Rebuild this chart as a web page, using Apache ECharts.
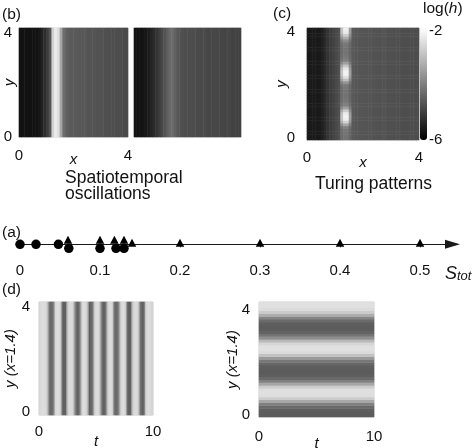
<!DOCTYPE html>
<html>
<head>
<meta charset="utf-8">
<script src="https://cdn.jsdelivr.net/npm/echarts@6/dist/echarts.min.js"></script>
<style>
  html, body { margin: 0; background: #fff; }
  #chart { width: 474px; height: 448px; }
</style>
</head>
<body>
<div id="chart"></div>
<script>
// (a) S_tot axis: outcome of each run
const sTicks = [0, 0.1, 0.2, 0.3, 0.4, 0.5];
const circleS = [0, 0.02, 0.048, 0.061, 0.1, 0.12, 0.13];
const circleLevel = [0, 0, 0, -0.4, -0.4, -0.4, -0.4];
const triS = [0.06, 0.1, 0.118, 0.13, 0.14, 0.2, 0.3, 0.4, 0.5];
const triLevel = [0.46, 0.46, 0.46, 0.46, 0.15, 0.15, 0.15, 0.15, 0.15];

// (b) log(h) across x (0..4, step 0.1), uniform in y
const bLeft = [-5.72, -5.72, -5.72, -5.72, -5.72, -5.72, -5.72, -5.64, -5.48, -5.28,
  -5.04, -4.7, -2.72, -2.32, -2.5, -3.4, -4.3, -4.5, -4.56, -4.6,
  -4.6, -4.6, -4.64, -4.64, -4.64, -4.68, -4.68, -4.68, -4.72, -4.72,
  -4.72, -4.76, -4.76, -4.76, -4.8, -4.8, -4.8, -4.8, -4.84, -4.84];
const bRight = [-5.68, -5.72, -5.72, -5.68, -5.64, -5.56, -5.44, -5.32, -5.2, -5.04,
  -4.88, -4.72, -4.52, -4.36, -4.32, -4.48, -4.64, -4.72, -4.76, -4.8,
  -4.8, -4.8, -4.8, -4.84, -4.84, -4.84, -4.84, -4.88, -4.88, -4.88,
  -4.88, -4.88, -4.92, -4.92, -4.92, -4.92, -4.96, -4.96, -4.96, -4.96];

// (c) background log(h) across x, plus the spot column profile across y
const cBg = [-5.6, -5.6, -5.6, -5.6, -5.6, -5.5, -5.35, -5.2, -5.05, -4.95,
  -4.85, -4.75, -4.6, -4.45, -4.45, -4.55, -4.6, -4.65, -4.65, -4.66,
  -4.67, -4.68, -4.69, -4.7, -4.7, -4.71, -4.72, -4.72, -4.73, -4.74,
  -4.74, -4.75, -4.76, -4.76, -4.77, -4.78, -4.78, -4.79, -4.8, -4.8];
const cSpotRow = [-4.2, -4.2, -4.2, -4.15, -4.0, -3.4, -2.7, -2.25, -2.2, -2.3,
  -2.8, -3.5, -4.0, -4.1, -4.15, -4.2, -4.2, -4.2, -4.15, -4.1,
  -3.7, -3.0, -2.5, -2.2, -2.2, -2.4, -2.9, -3.5, -4.0, -4.1,
  -4.15, -4.2, -4.2, -4.15, -4.1, -3.8, -3.3, -2.8, -2.35, -2.25];
const cSpotCols = [12, 13, 14, 15];
const cSpotWeight = [0.7, 1, 1, 0.45];

// (d) h at x=1.4, relative grey level; left across t (0..10, step 0.1), right across y (0..4, step 0.1)
const dLeft = [0.84, 0.85, 0.86, 0.86, 0.86, 0.86, 0.85, 0.76, 0.6, 0.45,
  0.38, 0.38, 0.45, 0.6, 0.84, 0.86, 0.87, 0.86, 0.84, 0.76,
  0.45, 0.38, 0.38, 0.38, 0.6, 0.76, 0.85, 0.86, 0.86, 0.85,
  0.76, 0.6, 0.45, 0.38, 0.38, 0.45, 0.6, 0.76, 0.85, 0.86,
  0.86, 0.85, 0.76, 0.6, 0.38, 0.38, 0.38, 0.45, 0.76, 0.84,
  0.86, 0.86, 0.85, 0.76, 0.6, 0.45, 0.38, 0.38, 0.45, 0.6,
  0.76, 0.85, 0.86, 0.86, 0.84, 0.6, 0.45, 0.38, 0.38, 0.45,
  0.6, 0.76, 0.85, 0.86, 0.86, 0.84, 0.76, 0.45, 0.38, 0.38,
  0.38, 0.6, 0.76, 0.85, 0.86, 0.86, 0.85, 0.76, 0.6, 0.38,
  0.38, 0.38, 0.45, 0.76, 0.84, 0.86, 0.86, 0.85, 0.84, 0.83];
const dRight = [0.36, 0.36, 0.37, 0.41, 0.5, 0.66, 0.8, 0.87, 0.88, 0.87,
  0.8, 0.65, 0.5, 0.41, 0.37, 0.36, 0.36, 0.37, 0.4, 0.47,
  0.6, 0.76, 0.86, 0.88, 0.88, 0.84, 0.72, 0.56, 0.45, 0.39,
  0.36, 0.36, 0.37, 0.42, 0.52, 0.68, 0.8, 0.86, 0.88, 0.88];

const colorbarTicks = [-6, -2];

const FONT = '"Liberation Sans", Arial, sans-serif';
const INK = '#111';

const chart = echarts.init(document.getElementById('chart'));

const xAxes = [];
const yAxes = [];
const series = [];

function cats (n) {
  return Array.from({ length: n }, (_, i) => String(i));
}

function heatPanel (gi, cols, rows, data) {
  xAxes.push({ type: 'category', gridIndex: gi, position: 'bottom', data: cats(cols), show: false });
  yAxes.push({ type: 'category', gridIndex: gi, position: 'left', data: cats(rows), show: false });
  series.push({
    type: 'heatmap',
    xAxisIndex: xAxes.length - 1,
    yAxisIndex: yAxes.length - 1,
    data: data,
    emphasis: { disabled: true }
  });
}

// value axes only carry the tick labels and names of a panel
function labelAxes (gi, o) {
  xAxes.push({
    type: 'value', gridIndex: gi, position: 'bottom', min: 0, max: o.xMax, interval: o.xMax,
    axisLine: { show: false }, axisTick: { show: false }, splitLine: { show: false },
    axisLabel: { margin: o.xMargin, fontSize: 15, color: INK, fontFamily: FONT },
    name: o.xName, nameLocation: 'middle', nameGap: o.xGap, nameMoveOverlap: false,
    nameTextStyle: { fontStyle: 'italic', fontSize: 15, color: INK, fontFamily: FONT }
  });
  yAxes.push({
    type: 'value', gridIndex: gi, position: 'left', min: 0, max: 4, interval: 4,
    axisLine: { show: false }, axisTick: { show: false }, splitLine: { show: false },
    axisLabel: {
      margin: o.yMargin, fontSize: 15, color: INK, fontFamily: FONT,
      formatter: v => (v === 4 ? '{top|4}' : '{bot|0}'),
      rich: {
        top: { fontSize: 15, fontFamily: FONT, color: INK, padding: [o.topShift * 2, 0, 0, 0] },
        bot: { fontSize: 15, fontFamily: FONT, color: INK, padding: [0, 0, o.botShift * 2, 0] }
      }
    },
    name: o.yName, nameLocation: 'middle', nameGap: o.yGap, nameMoveOverlap: false,
    nameTextStyle: { fontStyle: 'italic', fontSize: 15, color: INK, fontFamily: FONT }
  });
}

const frame = { show: true, borderColor: '#d4d4d4', borderWidth: 1, backgroundColor: 'transparent', outerBoundsMode: 'none' };
const grids = [
  Object.assign({ left: 19, top: 28, width: 109, height: 109 }, frame),   // 0 b left
  Object.assign({ left: 134, top: 28, width: 107, height: 109 }, frame),  // 1 b right
  Object.assign({ left: 307, top: 28, width: 112, height: 112 }, frame),  // 2 c
  { left: 420, top: 28, width: 7, height: 112, outerBoundsMode: 'none' },  // 3 colour bar
  { left: 20, top: 234.3, width: 432.5, height: 20, outerBoundsMode: 'none' }, // 4 a
  Object.assign({ left: 39, top: 302, width: 114, height: 113 }, frame),  // 5 d left
  Object.assign({ left: 259, top: 302, width: 115, height: 115 }, frame)  // 6 d right
];

// heatmaps: series 0..4
heatPanel(0, bLeft.length, 1, bLeft.map((v, i) => [i, 0, v]));
heatPanel(1, bRight.length, 1, bRight.map((v, i) => [i, 0, v]));

const cCells = [];
cBg.forEach((bg, i) => {
  const k = cSpotCols.indexOf(i);
  cSpotRow.forEach((spot, j) => {
    let v = bg;
    if (k >= 0 && spot > bg) v = bg + cSpotWeight[k] * (spot - bg);
    cCells.push([i, j, v]);
  });
});
heatPanel(2, cBg.length, cSpotRow.length, cCells);

heatPanel(5, dLeft.length, 1, dLeft.map((v, i) => [i, 0, v]));
heatPanel(6, 1, dRight.length, dRight.map((v, j) => [0, j, v]));

labelAxes(0, { xMax: 4, xMargin: 11, xName: 'x', xGap: 15, yMargin: 7, yName: 'y', yGap: 2, topShift: 5, botShift: 0 });
labelAxes(2, { xMax: 4, xMargin: 10, xName: 'x', xGap: 15, yMargin: 12, yName: 'y', yGap: 18, topShift: 4, botShift: 2 });
labelAxes(5, { xMax: 10, xMargin: 9, xName: 't', xGap: 19, yMargin: 9, yName: 'y (x=1.4)', yGap: 21, topShift: 5, botShift: 3 });
labelAxes(6, { xMax: 10, xMargin: 12, xName: 't', xGap: 19, yMargin: 9, yName: 'y (x=1.4)', yGap: 19, topShift: 8, botShift: 2 });

// colour bar labels
xAxes.push({ type: 'value', gridIndex: 3, position: 'bottom', min: 0, max: 1, show: false });
yAxes.push({
  type: 'value', gridIndex: 3, position: 'right', min: -6, max: -2,
  axisLine: { show: false }, axisTick: { show: false }, splitLine: { show: false },
  axisLabel: {
    customValues: colorbarTicks, margin: 2, fontSize: 15, color: INK, fontFamily: FONT,
    formatter: v => (v === -2 ? '{top|-2}' : String(v)),
    rich: { top: { fontSize: 15, fontFamily: FONT, color: INK, padding: [6, 0, 0, 0] } }
  }
});

// (a) S_tot axis, drawn through the middle of its grid
xAxes.push({
  type: 'value', gridIndex: 4, position: 'bottom', min: 0, max: 0.5406,
  axisLine: { show: true, onZero: false, symbol: ['none', 'triangle'], symbolSize: [9, 15], lineStyle: { color: '#1a1a1a', width: 1.2 } },
  offset: -10,
  axisTick: { show: true, customValues: sTicks, length: 3, lineStyle: { color: '#1a1a1a' } },
  splitLine: { show: false },
  axisLabel: {
    customValues: sTicks, margin: 19, fontSize: 15, color: INK, fontFamily: FONT,
    formatter: v => String(v)
  }
});
const aX = xAxes.length - 1;
yAxes.push({ type: 'value', gridIndex: 4, position: 'left', min: -1, max: 1, show: false });
const aY = yAxes.length - 1;

series.push({
  type: 'scatter', xAxisIndex: aX, yAxisIndex: aY,
  symbol: 'circle', symbolSize: 9.5,
  itemStyle: { color: '#000', opacity: 1 },
  data: circleS.map((s, i) => [s, circleLevel[i]]),
  emphasis: { disabled: true }
});
series.push({
  type: 'scatter', xAxisIndex: aX, yAxisIndex: aY,
  symbol: 'triangle', symbolSize: [8.5, 8],
  itemStyle: { color: '#000', opacity: 1 },
  data: triS.map((s, i) => [s, triLevel[i]]),
  emphasis: { disabled: true }
});

const text = (left, top, str, size, extra) => ({
  type: 'text', left: left, top: top,
  style: Object.assign({ text: str, fontSize: size, fontFamily: FONT, fill: INK }, extra || {})
});

chart.setOption({
  animation: false,
  backgroundColor: '#fff',
  grid: grids,
  xAxis: xAxes,
  yAxis: yAxes,
  visualMap: [
    {
      type: 'continuous', min: -6, max: -2, seriesIndex: [0, 1, 2],
      inRange: { color: ['#000000', '#ffffff'] },
      left: 420, top: 28, itemWidth: 7, itemHeight: 112, padding: 0,
      calculable: false, hoverLink: false
    },
    {
      type: 'continuous', min: 0, max: 1, seriesIndex: [3, 4], show: false,
      inRange: { color: ['#000000', '#ffffff'] }
    }
  ],
  series: series,
  graphic: [
    text(2, 7, '(b)', 15.5),
    text(273, 6, '(c)', 15.5),
    text(423, 1, '{n|log(}{i|h}{n|)}', 15.5, {
      rich: {
        n: { fontSize: 15.5, fontFamily: FONT, fill: INK },
        i: { fontSize: 15.5, fontFamily: FONT, fill: INK, fontStyle: 'italic' }
      }
    }),
    text(65, 169, 'Spatiotemporal\noscillations', 17.5, { lineHeight: 16 }),
    text(315, 175, 'Turing patterns', 17.5),
    text(2, 225, '(a)', 15.5),
    text(445, 261, '{s|S}{t|tot}', 18, {
      rich: {
        s: { fontSize: 18, lineHeight: 18, fontFamily: FONT, fill: INK, fontStyle: 'italic', verticalAlign: 'top' },
        t: { fontSize: 13, lineHeight: 13, fontFamily: FONT, fill: INK, fontStyle: 'italic', verticalAlign: 'bottom', padding: [9, 0, 0, 0] }
      }
    }),
    text(2, 282, '(d)', 15.5)
  ]
});
</script>
</body>
</html>
